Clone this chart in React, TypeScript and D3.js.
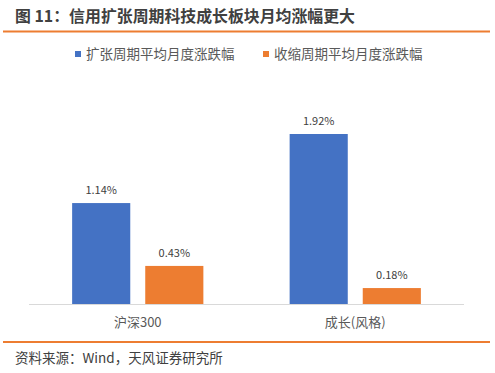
import React from "react";
import * as d3 from "d3";

const categories = ["沪深300", "成长(风格)"];
const seriesNames = ["扩张周期平均月度涨跌幅", "收缩周期平均月度涨跌幅"];
const expansion = [1.14, 1.92];
const contraction = [0.43, 0.18];
const colors = ["#4472C4", "#ED7D31"];

const W = 495, H = 373;
const plotLeft = 29, plotRight = 464, baseY = 304, topY = 134;

export default function App() {
  const x0 = d3.scaleBand<string>().domain(categories).range([plotLeft, plotRight]).padding(0);
  const x1 = d3.scaleBand<string>().domain(seriesNames).range([0, x0.bandwidth()]).paddingInner(0.205).paddingOuter(0.59);
  const y = d3.scaleLinear().domain([0, 1.92]).range([baseY, topY]);
  const values = [expansion, contraction];
  const font = "'Microsoft YaHei','Noto Sans CJK SC','Noto Sans',sans-serif";

  return (
    <svg width={W} height={H} style={{ position: "absolute", left: 0, top: 0, fontFamily: font }}>
      <rect width={W} height={H} fill="#fff" />
      <text x={15} y={22} fontSize={15.8} fontWeight="bold" fill="#404040" textLength={340} lengthAdjust="spacingAndGlyphs">图 11：信用扩张周期科技成长板块月均涨幅更大</text>
      <line x1={3} x2={490} y1={31.5} y2={31.5} stroke="#ED7D31" strokeWidth={2} />
      {seriesNames.map((s, i) => {
        const lx = i === 0 ? 75 : 263;
        return (
          <g key={s}>
            <rect x={lx} y={51} width={6} height={6} fill={colors[i]} />
            <text x={lx + 11} y={59} fontSize={13.5} fill="#595959">{s}</text>
          </g>
        );
      })}
      <line x1={plotLeft} x2={plotRight} y1={baseY + 0.5} y2={baseY + 0.5} stroke="#D9D9D9" strokeWidth={1} />
      {categories.map((c, ci) => (
        <g key={c} transform={`translate(${x0(c)},0)`}>
          {seriesNames.map((s, si) => {
            const v = values[si][ci];
            const bx = x1(s)!;
            return (
              <g key={s}>
                <rect x={bx} y={y(v)} width={x1.bandwidth()} height={baseY - y(v)} fill={colors[si]} />
                <text x={bx + x1.bandwidth() / 2} y={y(v) - 9} fontSize={11} textAnchor="middle" fill="#404040">{v.toFixed(2)}%</text>
              </g>
            );
          })}
          <text x={x0.bandwidth() / 2} y={327} fontSize={13} textAnchor="middle" fill="#595959">{c}</text>
        </g>
      ))}
      <line x1={3} x2={490} y1={342} y2={342} stroke="#ED7D31" strokeWidth={2} />
      <text x={15} y={363} fontSize={13.5} fill="#404040">资料来源：Wind，天风证券研究所</text>
    </svg>
  );
}
